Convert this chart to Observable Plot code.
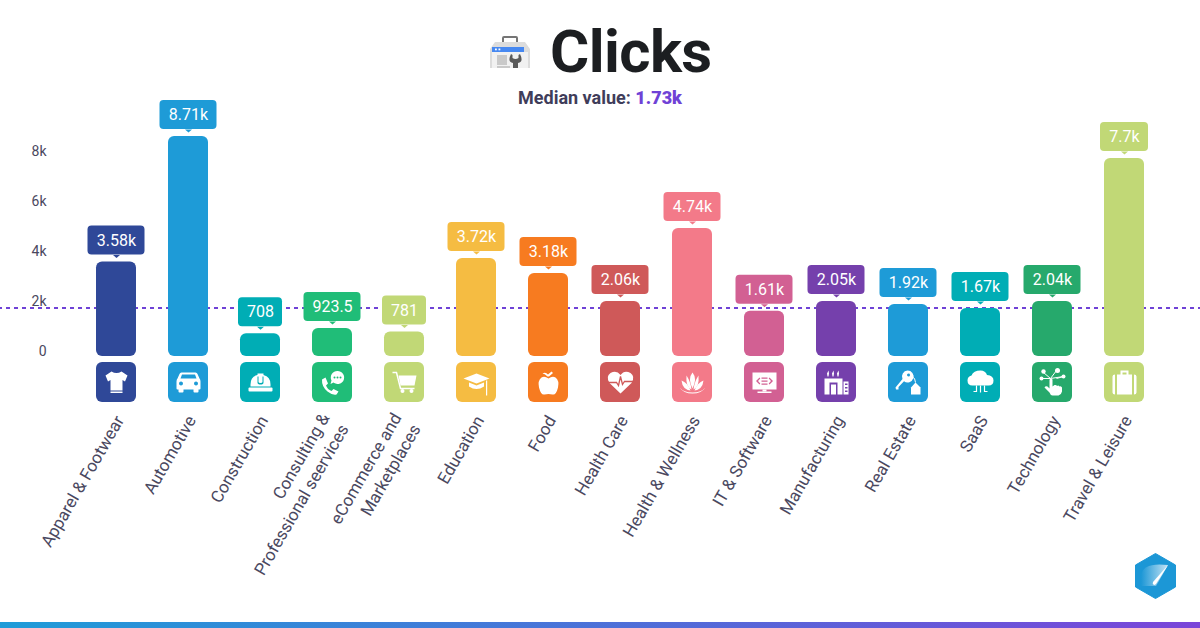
<!DOCTYPE html>
<html><head><meta charset="utf-8">
<script src="https://cdn.jsdelivr.net/npm/d3@7"></script>
<script src="https://cdn.jsdelivr.net/npm/@observablehq/plot@0.6"></script>
<style>
html,body{margin:0;padding:0;background:#fff;width:1200px;height:628px;overflow:hidden;font-family:Roboto,sans-serif}
#wrap{position:relative;width:1200px;height:628px}
#chart{position:absolute;left:0;top:0}
#chart svg{display:block;overflow:visible}
#title{position:absolute;left:550px;top:18px;font:700 60px/68px Roboto;color:#1c1e21;letter-spacing:-.6px;margin:0}
#sub{position:absolute;left:0;width:1200px;top:87px;text-align:center;font:700 18px/22px Roboto;color:#3f3d5a}
#sub b{color:#6f42d6}
#gsc{position:absolute;left:490px;top:35px}
#logo{position:absolute;left:1134px;top:553px}
#bar{position:absolute;left:0;top:622px;width:1200px;height:6px;background:linear-gradient(90deg,#1e9cd8,#7a45d9)}
</style></head><body>
<div id="wrap">
<div id="chart"></div>
<svg id="gsc" width="40" height="34" viewBox="0 0 40 34">
<path d="M12 8V3Q12 1 14 1H26Q28 1 28 3V8H26V3H14V8Z" fill="#757575"/>
<path d="M5 7H35L40 14V33H0V14Z" fill="#dcdcdc"/>
<rect x="2" y="12" width="32" height="5" fill="#4688f1"/>
<rect x="2" y="17" width="36" height="16" fill="#f1f1f1"/>
<rect x="5" y="13.500" width="1.800" height="1.800" fill="#fff"/><rect x="8.500" y="13.500" width="1.800" height="1.800" fill="#fff"/>
<rect x="7" y="20" width="10" height="10" fill="#c9c9c9"/><rect x="7" y="31" width="13" height="2" fill="#c9c9c9"/>
<path d="M21 19Q17 27 23 28V33H28V28Q34 27 30 19L28.500 20V23Q25.500 25 22.500 23V20Z" fill="#5a5a5a"/>
</svg>
<h1 id="title">Clicks</h1>
<div id="sub">Median value: <b>1.73k</b></div>
<svg id="logo" width="43" height="46" viewBox="0 0 43 46">
<defs><linearGradient id="lg" x1="0" y1="0" x2="1" y2="0"><stop offset="0" stop-color="#1c97d6"/><stop offset="1" stop-color="#c4e3f4"/></linearGradient></defs>
<path d="M21.500 .5L41.500 12V34L21.500 45.500L1.500 34V12Z" fill="#1c97d6" stroke="#1c97d6" stroke-linejoin="round"/>
<path d="M7 33V22Q9 9 34 12L22 33Z" fill="url(#lg)"/>
<path d="M34 12L19 29Q18 31 20 32Q21 32 22 31Z" fill="#fff"/>
</svg>
<div id="bar"></div>
</div>
<script>
const categories = ["Apparel & Footwear","Automotive","Construction","Consulting &\nProfessional seervices","eCommerce and\nMarketplaces","Education","Food","Health Care","Health & Wellness","IT & Software","Manufacturing","Real Estate","SaaS","Technology","Travel & Leisure"];
const barValues = [3.58,8.6,0.708,0.9235,0.781,3.72,3.12,2.0,4.92,1.61,2.0,1.88,1.72,2.0,7.72];
const valueLabels = ["3.58k","8.71k","708","923.5","781","3.72k","3.18k","2.06k","4.74k","1.61k","2.05k","1.92k","1.67k","2.04k","7.7k"];
const colors = ["#2f4898","#1e9bd7","#00adb5","#20bd78","#c1d876","#f5bc42","#f77b20","#cf5959","#f37a89","#d26093","#7540ac","#1e9bd7","#00adb5","#26a96c","#c1d876"];
const yTicks = [0,2,4,6,8];
const median = 1.73;

const W = 'fill="#fff"';
const glyphs = [
 `<path ${W} d="M9 13L15 9Q20 12 25 9L31 13L28.500 19L26 17.500V28H14V17.500L11.500 19Z"/><rect ${W} x="14" y="29" width="12" height="1.500"/>`,
 `<path ${W} fill-rule="evenodd" d="M13 10H27Q28.500 10 29 11.500L31 16Q32 17 32 19V26Q32 27 31 27H30V29Q30 30 29 30H26Q25 30 25 29V27H15V29Q15 30 14 30H11Q10 30 10 29V27H9Q8 27 8 26V19Q8 17 9 16L11 11.500Q11.500 10 13 10ZM13.500 12L12 16H28L26.500 12ZM12.500 19A2 2 0 1 0 12.510 23A2 2 0 1 0 12.500 19ZM27.500 19A2 2 0 1 0 27.510 23A2 2 0 1 0 27.500 19Z"/>`,
 `<path ${W} fill-rule="evenodd" d="M10 24V22Q10 14 17 12.500V11H23V12.500Q30 14 30 22V24ZM17 14V20Q17 22 20 22Q23 22 23 20V14H22V19.500Q22 20.500 20 20.500Q18 20.500 18 19.500V14Z"/><rect ${W} x="8" y="25" width="24" height="4" rx="1"/>`,
 `<path ${W} d="M9.500 17L13 15L15.500 21L13.500 23Q15 27 19 28.500L21 26.500L26 29L24 32Q20 33 15 29Q9 24 9.500 17Z"/><path ${W} d="M25 8.500A6.500 6.500 0 1 1 21 20L18 21.500L19 18A6.500 6.500 0 0 1 25 8.500Z"/><g fill="#20bd78"><circle cx="22" cy="15" r="1"/><circle cx="25" cy="15" r="1"/><circle cx="28" cy="15" r="1"/></g>`,
 `<path fill="none" stroke="#fff" stroke-width="1.500" d="M8 10H12L16 26H30"/><path ${W} d="M14 13H32L30 23H16Z"/><circle ${W} cx="18" cy="28.500" r="2"/><circle ${W} cx="27" cy="28.500" r="2"/>`,
 `<path ${W} d="M20 11L33 16L20 21L7 16Z"/><path ${W} d="M12.500 20L20 23L27.500 20V24Q20 29 12.500 24Z"/><rect ${W} x="29.500" y="18" width="1.200" height="15"/>`,
 `<path ${W} d="M20 16Q24 13 27 15Q31 18 29.500 25Q27.500 33 24 32Q20 31 16 32Q12.500 33 10.500 25Q9 18 13 15Q16 13 20 16Z"/><path ${W} d="M19 14Q16 11 14 11Q17 9 19.500 12L23 9L24.500 10.500L20.500 14Z"/>`,
 `<path ${W} d="M20 31L9 20.500Q5 14 10 10.500Q16 7 20 12.500Q24 7 30 10.500Q35 14 31 20.500Z"/><path fill="none" stroke="#cf5959" stroke-width="1.300" d="M7 20H16L18 23L20 14L22 22L24 19H33"/>`,
 `<path ${W} d="M20 10Q25 16 20 26Q15 16 20 10Z"/><path ${W} d="M14 13Q18 19 19 27Q13 24 14 13Z"/><path ${W} d="M26 13Q22 19 21 27Q27 24 26 13Z"/><path ${W} d="M9 18Q15 20 18 28Q10 27 9 18Z"/><path ${W} d="M31 18Q25 20 22 28Q30 27 31 18Z"/><path ${W} d="M7 25Q11 30 20 30Q29 30 33 25Q29 31 20 31Q11 31 7 25Z"/>`,
 `<path ${W} fill-rule="evenodd" d="M8 10H32V27H8ZM17 15V16.200H23V15ZM17 18V19.200H23V18ZM17 21V22.200H23V21ZM15 15L11.500 18.500L15 22L15.800 21L13.500 18.500L15.800 16ZM25 15L24.200 16L26.500 18.500L24.200 21L25 22L28.500 18.500Z"/><rect ${W} x="18" y="27" width="4" height="2"/><rect ${W} x="13" y="29" width="14" height="1.500"/>`,
 `<path ${W} fill-rule="evenodd" d="M8 16H26V32H8ZM13 20V32H21V20ZM14.500 22H19.500V32H14.500ZM27 19H32V32H27ZM28.500 21V22.500H31V21ZM28.500 24.500V26H31V24.500ZM28.500 28V29.500H31V28Z"/><path ${W} d="M11 14L10.500 11L12 8L12.500 11L12 14ZM16 14L15.500 11L17 8L17.500 11L17 14ZM21 14L20.500 11L22 8L22.500 11L22 14Z"/>`,
 `<path ${W} fill-rule="evenodd" d="M19 8A6 6 0 1 1 15.500 18.800L10 24.500V27H7.500L7 25L14 16.500A6 6 0 0 1 19 8ZM20 11A1.500 1.500 0 1 0 20.010 14A1.500 1.500 0 1 0 20 11Z"/><path ${W} d="M27 20L32 25V32H22.500V25Z"/><path fill="none" stroke="#fff" d="M23 14Q27 15 27 20"/>`,
 `<path ${W} d="M20 8Q25 8 26.500 12.500Q33 13 33 18Q33 23 28 23H12Q7 23 7 18Q7 14 11 13Q13 8 20 8Z"/><path fill="none" stroke="#fff" stroke-width="1.200" d="M16 23V29H13M20 23V30M24 23V29H27"/>`,
 `<path fill="none" stroke="#fff" stroke-width="1" d="M11 10L18 16L24 8M8 16H18L31 14M18 16V22M24 16L31 14"/><circle ${W} cx="11" cy="9" r="2.200"/><circle ${W} cx="25" cy="8" r="2.500"/><circle ${W} cx="9" cy="16" r="2"/><circle ${W} cx="31" cy="14" r="2"/><path ${W} d="M17 17Q18.500 15.500 20 17V24L22 22.500Q24 22 24.500 23.500Q26 22.500 27 24Q28 23 29.500 25V29Q29 32 26 33H20Q18 33 17 30L12 25Q13 23 15 24L17 26Z"/>`,
 `<path ${W} fill-rule="evenodd" d="M12.500 12H16V8H24V12H27.500V32H12.500ZM18 10V12H22V10Z"/><path ${W} d="M8 14Q8 12 10.500 12V32Q8 32 8 30ZM29.500 12Q32 12 32 14V30Q32 32 29.500 32Z"/>`
];
const icons = glyphs.map(g => "data:image/svg+xml," + encodeURIComponent(`<svg xmlns="http://www.w3.org/2000/svg" viewBox="0 0 40 40">${g}</svg>`));

const rows = categories.map((c,i)=>({c, v:barValues[i], label:valueLabels[i], color:colors[i], icon:icons[i]}));
const boxWidth = {3:44,4:48,5:57};
const tileTop = -0.44, tileBottom = -2.04, tileMid = -1.24, labelY = -2.6;

const labelBoxes = [3,4,5].map(n => {
  const pad = -(boxWidth[n]-40)/2;
  return Plot.barY(rows.filter(d=>d.label.length===n),{x:"c",y1:"v",y2:"v",fill:"color",rx:4,insetLeft:pad,insetRight:pad,insetTop:-36,insetBottom:7});
});
const arrow = {draw(ctx){ctx.moveTo(-3.500,0);ctx.lineTo(3.500,0);ctx.lineTo(0,3);ctx.closePath();}};
const catText = {x:"c",y:labelY,text:"c",fill:"#4a4860",fontSize:17,textAnchor:"end",rotate:-60,lineAnchor:"middle",lineHeight:1.3};

const plot = Plot.plot({
  width:1200,height:628,marginLeft:80,marginRight:40,marginTop:0,marginBottom:0,
  style:{background:"transparent",fontFamily:"Roboto"},
  x:{type:"band",domain:categories,paddingInner:0.4444,paddingOuter:0.2222,axis:null},
  y:{domain:[0,8],range:[351,151],axis:null},
  color:{type:"identity"},
  marks:[
    Plot.axisY({ticks:yTicks,anchor:"left",tickSize:0,tickPadding:34,tickFormat:d=>d?d+"k":"0",label:null,fontSize:14,color:"#4a4860",fill:"#4a4860"}),
    Plot.ruleY([median],{stroke:"#6f42d6",strokeWidth:2,strokeDasharray:"4 4",strokeDashoffset:2,insetLeft:-80,insetRight:-40,dy:-0.25}),
    Plot.barY(rows,{x:"c",y1:0,y2:"v",fill:"color",rx:6,insetBottom:-5}),
    Plot.barY(rows,{x:"c",y1:tileTop,y2:tileBottom,fill:"color",rx:6}),
    Plot.image(rows,{x:"c",y:tileMid,width:40,height:40,src:d=>d.icon}),
    ...labelBoxes,
    Plot.dot(rows,{x:"c",y:"v",fill:"color",symbol:arrow,r:4,dy:-7}),
    Plot.text(rows,{x:"c",y:"v",text:"label",fill:"#fff",fontSize:16,fontWeight:400,dy:-21.5,lineAnchor:"middle"}),
    Plot.text(rows.filter(d=>!d.c.includes("\n")),{...catText,dx:2}),
    Plot.text(rows.filter(d=>d.c.includes("\n")),{...catText,dx:1,dy:3})
  ]
});
document.getElementById("chart").append(plot);
</script>
</body></html>
